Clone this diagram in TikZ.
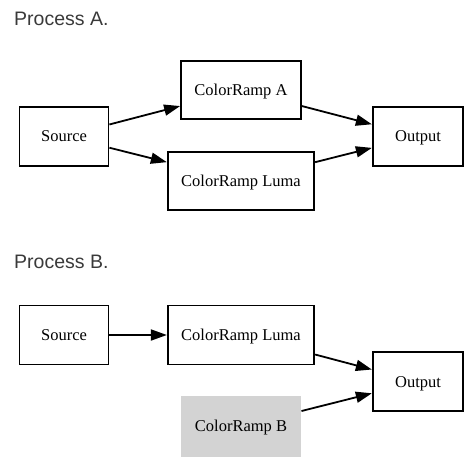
\documentclass[tikz,border=0pt]{standalone}
\usepackage{fontspec}
\setmainfont{Liberation Serif}
\newfontfamily\titlefont{Liberation Sans}
\usetikzlibrary{arrows.meta}
\definecolor{titlegray}{HTML}{3A3A3A}
\definecolor{boxgray}{HTML}{D3D3D3}
\begin{document}
\begin{tikzpicture}[x=1pt,y=-1pt,
  box/.style={draw, line width=1.8pt, minimum width=#1, minimum height=59pt,
    inner sep=0pt, text height=10.8pt, text depth=0pt,
    font=\fontsize{16.5}{19}\selectfont},
  box/.default=90pt,
  graybox/.style={fill=boxgray, draw=none, minimum width=#1, minimum height=61pt,
    inner sep=0pt, text height=10.8pt, text depth=0pt,
    font=\fontsize{16.5}{19}\selectfont},
  title/.style={anchor=base west, inner sep=0pt, text=titlegray,
    font=\titlefont\fontsize{19.5}{23}\selectfont},
  conn/.style={-{Triangle[length=16pt,width=11pt]}, line width=1.8pt}
]
\fill[white] (0,0) rectangle (474,465);
\useasboundingbox (0,0) rectangle (474,465);

% Process A
\node[title] (tA) at (14,26) {Process A.};
\node[box=89pt] (srcA) at (64,136.3) {Source};
\node[box=120pt, minimum height=58pt] (crA) at (241,90.2) {ColorRamp A};
\node[box=146.5pt, minimum height=58pt] (lumaA) at (241,180.8) {ColorRamp Luma};
\node[box=90.5pt] (outA) at (418,136.3) {Output};
\draw[conn] (srcA) -- (crA);
\draw[conn] (srcA) -- (lumaA);
\draw[conn] (crA) -- (outA);
\draw[conn] (lumaA) -- (outA);

% Process B
\node[title] (tB) at (14,269) {Process B.};
\node[box=89pt] (srcB) at (64,335) {Source};
\node[box=146.5pt] (lumaB) at (241,335) {ColorRamp Luma};
\node[box=90.5pt] (outB) at (418,381.7) {Output};
\node[graybox=120.5pt] (crB) at (241,426.2) {ColorRamp B};
\draw[conn] (srcB) -- (lumaB);
\draw[conn] (lumaB) -- (outB);
\draw[conn] (crB) -- (outB);
\end{tikzpicture}
\end{document}
